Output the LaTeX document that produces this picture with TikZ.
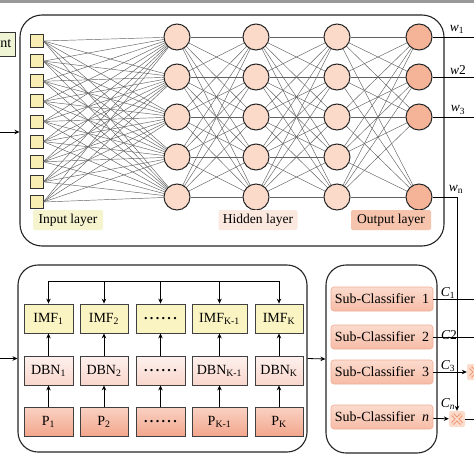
\documentclass[tikz,border=0pt]{standalone}
\usepackage{fontspec}
\setmainfont{Liberation Serif}
\usetikzlibrary{arrows.meta,calc}
\definecolor{inyel}{HTML}{F8EDB2}
\definecolor{imfyel}{HTML}{FAF3C2}
\definecolor{hidpink}{HTML}{FBDACA}
\definecolor{outsal}{HTML}{F5B397}
\definecolor{dbntop}{HTML}{FDF1ED}
\definecolor{dbnbot}{HTML}{F9D6CC}
\definecolor{ptop}{HTML}{F9D2C3}
\definecolor{pbot}{HTML}{F3A68D}
\definecolor{subtop}{HTML}{FBDBCE}
\definecolor{subbot}{HTML}{F7BCA6}
\definecolor{subedge}{HTML}{F0AE98}
\definecolor{inlab}{HTML}{F6F3CF}
\definecolor{hidlab}{HTML}{FBE8DF}
\definecolor{outlab}{HTML}{F6C4AC}
\definecolor{ntgreen}{HTML}{EEF4D4}
\definecolor{multsal}{HTML}{F29A78}
\definecolor{multbg}{HTML}{FBDCCD}
\tikzset{
  conn/.style={draw=black!62, line width=0.45pt},
  insq/.style={draw=black!80, line width=0.8pt, fill=inyel, minimum size=13pt, inner sep=0pt},
  hid/.style={circle, draw=black!85, line width=1pt, fill=hidpink, minimum size=26pt, inner sep=0pt},
  outn/.style={hid, fill=outsal},
  panel/.style={draw=black!85, line width=1.1pt, rounded corners=22pt},
  lab/.style={font=\fontsize{13.5}{15}\selectfont, inner sep=0pt, minimum height=20pt, rounded corners=2pt},
  cell/.style={draw=black!75, line width=0.8pt, minimum height=29pt, inner sep=0pt, font=\fontsize{14}{16}\selectfont},
  imf/.style={cell, fill=imfyel},
  dbn/.style={cell, top color=dbntop, bottom color=dbnbot},
  pbox/.style={cell, top color=ptop, bottom color=pbot},
  subc/.style={draw=subedge, line width=0.6pt, rounded corners=3pt, top color=subtop, bottom color=subbot,
     minimum width=102pt, minimum height=24pt, inner sep=0pt, font=\fontsize{14}{16}\selectfont},
  arr/.style={-{Stealth[length=5pt,width=4.5pt]}, line width=0.8pt, black},
  wire/.style={line width=1pt, black},
  wlab/.style={font=\fontsize{13.5}{15}\selectfont, inner sep=0pt},
  mult/.style={rounded corners=2pt, fill=multbg, minimum size=16pt, inner sep=0pt,
     path picture={
       \draw[multsal, line width=3.6pt] ($(path picture bounding box.center)+(-4.5,-4.5)$) -- ++(9,9)
             ($(path picture bounding box.center)+(-4.5,4.5)$) -- ++(9,-9);
       \draw[multbg, line width=1.6pt] ($(path picture bounding box.center)+(-4.5,-4.5)$) -- ++(9,9)
             ($(path picture bounding box.center)+(-4.5,4.5)$) -- ++(9,-9);
     }},
}
\begin{document}
\begin{tikzpicture}[x=1pt,y=-1pt]
\useasboundingbox (0,0) rectangle (474,474);
\clip (0,0) rectangle (474,474);
\fill[white] (0,0) rectangle (474,474);
\fill[black!40] (0,0) rectangle (474,2.5);

% partial box at left
\node[draw=black!80, line width=0.9pt, fill=ntgreen, minimum width=45pt, minimum height=24pt, inner sep=0pt] (ntbox) at (-7.5,44) {};
\node[font=\fontsize{14}{16}\selectfont, anchor=east, inner sep=0pt] (nttext) at (11.5,44) {nt};

% top panel
\node[panel, minimum width=424pt, minimum height=231pt] (toppanel) at (232,130.5) {};
\coordinate (inA) at (0,132);
\draw[arr] (inA) -- (inA -| toppanel.west);

% input layer
\foreach \i in {1,...,9} \node[insq] (in\i) at (36.5,{41+(\i-1)*20.125}) {};
% hidden layers
\foreach \j in {1,...,5} {
  \node[hid] (ha\j) at (177,{37+(\j-1)*40}) {};
  \node[hid] (hb\j) at (256,{37+(\j-1)*40}) {};
  \node[hid] (hc\j) at (337,{37+(\j-1)*40}) {};
}
\node[outn] (o1) at (419,37) {};
\node[outn] (o2) at (419,77) {};
\node[outn] (o3) at (419,117) {};
\node[outn] (o4) at (419,197) {};

\foreach \i in {1,...,9} \foreach \j in {1,...,5} \draw[conn] (in\i.east) -- (ha\j);
\foreach \i in {1,...,5} \foreach \j in {1,...,5} {
  \draw[conn] (ha\i) -- (hb\j);
  \draw[conn] (hb\i) -- (hc\j);
}
\foreach \i in {1,...,5} \foreach \j in {1,...,4} \draw[conn] (hc\i) -- (o\j);

\node[lab, fill=inlab, minimum width=70pt] (linput) at (68,220) {Input layer};
\node[lab, fill=hidlab, minimum width=79pt] (lhidden) at (258,220) {Hidden layer};
\node[lab, fill=outlab, minimum width=80pt] (loutput) at (391,220) {Output layer};

% outputs w
\coordinate (w1end) at (474,37);
\coordinate (w2end) at (474,77);
\coordinate (w3end) at (474,117);
\coordinate (wncorner) at (457,197);
\draw[wire] (o1) -- (w1end);
\draw[wire] (o2) -- (w2end);
\draw[wire] (o3) -- (w3end);
\node[wlab] (lw1) at (457,29) {\textit{w}\textsubscript{1}};
\node[wlab] (lw2) at (458,70) {\textit{w}2};
\node[wlab] (lw3) at (458,110) {\textit{w}\textsubscript{3}};
\node[wlab] (lwn) at (456,189) {\textit{w}\textsubscript{n}};

% bottom panel
\node[panel, rounded corners=20pt, minimum width=289pt, minimum height=187pt] (botpanel) at (162.5,358.5) {};
\coordinate (inB) at (0,358.5);
\draw[arr] (inB) -- (botpanel.west);

\foreach \k/\x/\w/\sub in {1/48.5/49/1, 2/104/48/2, 3/160.5/49/, 4/219.5/55/K-1, 5/279/48/K} {
  \ifnum\k=3
    \node[imf, minimum width=\w pt] (imf\k) at (\x,318.5) {\textbf{.}\,\textbf{.}\,\textbf{.}\,\textbf{.}\,\textbf{.}\,\textbf{.}};
    \node[dbn, minimum width=\w pt] (dbn\k) at (\x,370.5) {\textbf{.}\,\textbf{.}\,\textbf{.}\,\textbf{.}\,\textbf{.}\,\textbf{.}};
    \node[pbox, minimum width=\w pt] (p\k) at (\x,421.5) {\textbf{.}\,\textbf{.}\,\textbf{.}\,\textbf{.}\,\textbf{.}\,\textbf{.}};
  \else
    \node[imf, minimum width=\w pt] (imf\k) at (\x,318.5) {IMF\textsubscript{\sub}};
    \node[dbn, minimum width=\w pt] (dbn\k) at (\x,370.5) {DBN\textsubscript{\sub}};
    \node[pbox, minimum width=\w pt] (p\k) at (\x,421.5) {P\textsubscript{\sub}};
  \fi
  \coordinate (d\k) at (\x,281);
  \draw[arr] (d\k) -- (imf\k.north);
  \draw[arr] (p\k) -- (dbn\k);
  \draw[arr] (dbn\k) -- (imf\k);
}
\draw[wire, line width=0.9pt] (d1) -- (d5);

% classifier panel
\node[panel, rounded corners=20pt, minimum width=111pt, minimum height=188pt] (clspanel) at (381.5,359) {};
\draw[arr] (botpanel.east) -- (clspanel.west);

\node[subc] (sc1) at (382,299) {Sub-Classifier\ \ 1};
\node[subc] (sc2) at (382,337) {Sub-Classifier\ \ 2};
\node[subc] (sc3) at (382,372) {Sub-Classifier\ \ 3};
\node[subc] (scn) at (382,417) {Sub-Classifier\ \ \textit{n}};

\node[mult] (m3) at (475,372) {};
\node[mult] (mn) at (457,419) {};
\coordinate (c1end) at (474,299);
\coordinate (c2end) at (474,337);
\coordinate (mnend) at (474,419);

\draw[wire] (o4) -- (wncorner);
\draw[arr] (wncorner) -- (mn.north);
\draw[wire] (sc1) -- (c1end);
\draw[wire] (sc2) -- (c2end);
\draw[arr] (sc3) -- (m3);
\draw[arr] (scn) -- (mn);
\draw[wire] (mn) -- (mnend);

\node[wlab] (lc1) at (448,293) {\textit{C}\textsubscript{1}};
\node[wlab] (lc2) at (449,335) {\textit{C}2};
\node[wlab] (lc3) at (448,366) {\textit{C}\textsubscript{3}};
\node[wlab] (lcn) at (448,404) {\textit{C}\textsubscript{\textit{n}}};
\end{tikzpicture}
\end{document}
